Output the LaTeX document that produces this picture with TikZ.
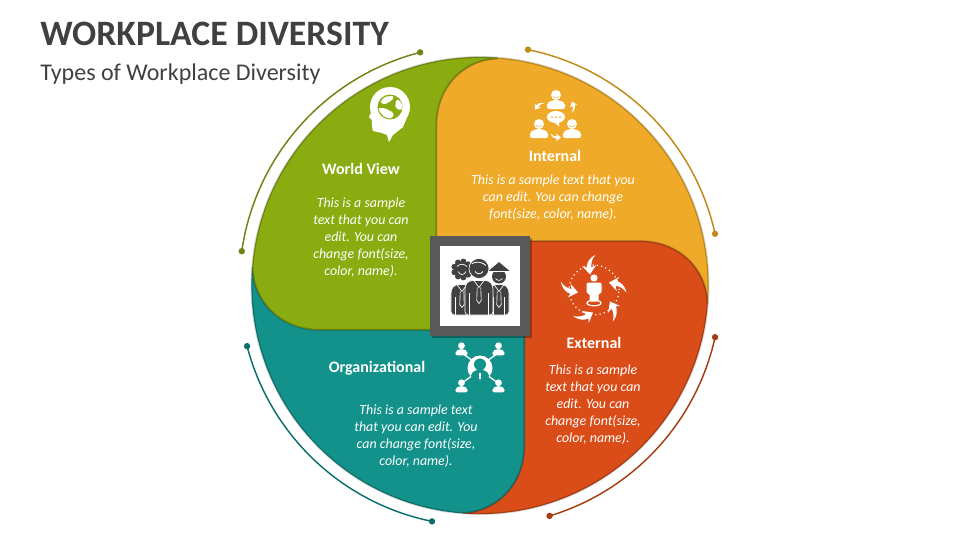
\documentclass[tikz,border=0pt]{standalone}
\usepackage{fontspec}
\setmainfont{Carlito}

\definecolor{leafgreen}{HTML}{8AAC10}
\definecolor{leafedge}{HTML}{6E8410}
\definecolor{amber}{HTML}{EEAA28}
\definecolor{amberedge}{HTML}{BE8A18}
\definecolor{rust}{HTML}{DA4C18}
\definecolor{rustedge}{HTML}{A83C14}
\definecolor{tealfill}{HTML}{12928A}
\definecolor{tealedge}{HTML}{0E6F6A}
\definecolor{frame}{HTML}{595959}
\definecolor{ink}{HTML}{404040}

\begin{document}
\begin{tikzpicture}[x=0.75pt,y=0.75pt,
    headtext/.style={white,font=\fontsize{12pt}{14pt}\selectfont\bfseries,align=center},
    bodytext/.style={white,font=\fontsize{10.45pt}{12.75pt}\selectfont\itshape,align=center}]

    \useasboundingbox (-480,-254.5) rectangle (480,285.5);

    \def\petal#1#2{
      \fill[#1,preaction={draw=black,opacity=.16,line width=2.2pt}] (85:228) arc[start angle=85,end angle=-4.5,radius=228]
        .. controls (227,15) and (200,44) .. (160,44) -- (-44,44) -- (-44,160)
        .. controls (-44,200) and (-15,227) .. cycle;
      \draw[#2,line width=.9pt,line join=round] (85:228) arc[start angle=85,end angle=-4.5,radius=228]
        .. controls (227,15) and (200,44) .. (160,44) -- (-44,44) -- (-44,160)
        .. controls (-44,200) and (-15,227) .. cycle;
    }

    \def\guide#1#2#3{
      \draw[#3,line width=1.1pt] (#1:240.7) arc[start angle=#1,end angle=#2,radius=240.7];
      \fill[#3] (#1:240.7) circle(3.2);
      \fill[#3] (#2:240.7) circle(3.2);
    }

    \def\bust#1{
      \fill[white] (0,7) circle(5);
      \fill[white,rounded corners=1.5pt] (-9,-7) -- (-9,-1) -- (-3,2) -- (3,2) -- (9,-1) -- (9,-7) -- cycle;
      \draw[#1,line width=.3pt] (-3,6) .. controls (-2,3.5) and (2,3.5) .. (3,6);
    }

    \def\swoop{
      \fill[white] (0,0) -- (-9,7) -- (-7,2) .. controls (-11,2) and (-15,3) .. (-19,7)
        .. controls (-16,0) and (-12,-2) .. (-7,-3) -- (-9,-7) -- cycle;
    }

    \def\crew#1#2{
      \filldraw[fill=ink,draw=white,line width=.5pt,rounded corners=2.5pt] (-#1,-#2) -- (-#1,-4) -- (-#1+4,1) -- (#1-4,1) -- (#1,-4) -- (#1,-#2) -- cycle;
      \draw[white,line width=.5pt] (-5,1) -- (0,-6) -- (5,1);
      \draw[white,line width=.5pt] (-1.8,-6) -- (-2.2,-19) -- (0,-22) -- (2.2,-19) -- (1.8,-6);
      \draw[white,line width=.5pt] (-#1+4.5,-#2) -- (-#1+4.5,-11);
      \draw[white,line width=.5pt] (#1-4.5,-#2) -- (#1-4.5,-11);
    }

    % petals and the arcs round them
    \foreach \phi/\col/\edge in {0/amber/amberedge,-90/rust/rustedge,-180/tealfill/tealedge,90/leafgreen/leafedge}
    \begin{scope}[ rotate = \phi ] \petal{\col}{\edge} \end{scope};

    \guide{171.8}{104.4}{leafedge}
    \guide{78.5}{12.4}{amberedge}
    \guide{-12.4}{-73.2}{rustedge}
    \guide{194.6}{258.5}{tealedge}

    % heading
    \node[anchor=west,inner sep=0pt,ink,font=\fontsize{26.8pt}{30pt}\selectfont\bfseries] (title) at (-440,251.5) {WORKPLACE DIVERSITY};
    \node[anchor=west,inner sep=0pt,ink,font=\fontsize{18pt}{20pt}\selectfont] (subtitle) at (-440,211.5) {Types of Workplace Diversity};

    % centre picture
    \fill[black,opacity=.3] (-48,-52) rectangle (52,48);
    \fill[frame] (-50,-50) rectangle (50,50);
    \fill[white] (-40,-40) rectangle (40,40);

    \begin{scope}[ shift = ({ -18 , 0 }) ] \crew{11}{29.5} \end{scope}
    \begin{scope}[ shift = ({  19 , 0 }) ] \crew{10}{29.5} \end{scope}
    \begin{scope}[ shift = ({ -18 , 16 }) ]
      \foreach \a in {0,40,...,320} \fill[ink] (\a:8) circle(3);
      \fill[ink] (0,0) circle(8);
      \draw[white,line width=.5pt] (-4,-2) .. controls (-2,-6) and (2,-6) .. (4,-2);
      \draw[white,line width=.5pt] (-5,3) .. controls (-2,6) and (2,6) .. (5,3);
    \end{scope}
    \begin{scope}[ shift = ({ 19 , 9 }) ]
      \fill[ink] (0,0) circle(7);
      \filldraw[fill=ink,draw=white,line width=.5pt] (-12,5) -- (0,15) -- (12,5) -- cycle;
      \draw[white,line width=.5pt] (-3.5,-2) .. controls (-2,-4.5) and (2,-4.5) .. (3.5,-2);
    \end{scope}
    \begin{scope}[ shift = ({ -1 , 4 }) ] \crew{14}{33.5} \end{scope}
    \begin{scope}[ shift = ({ -1 , 17 }) ]
      \filldraw[fill=ink,draw=white,line width=.5pt] (0,0) circle(10);
      \draw[white,line width=.6pt] (-7,5) .. controls (-3,7) and (3,7) .. (7,3);
      \draw[white,line width=.6pt] (-4,-3) .. controls (-2,-6) and (2,-6) .. (4,-3);
    \end{scope}

    % world view icon
    \begin{scope}[ shift = ({ -90 , 178.5 }) ]
      \fill[white] (0,0) circle(20);
      \fill[white] (-19,-6) -- (-21,-10) -- (-18,-13) -- (-18,-19) -- (-17,-24) -- (-8,-26) -- (-3,-28) -- (-1,-35) -- (3,-28) -- (13,-20) -- (18,-8) -- cycle;
      \fill[leafgreen] (0,0) circle(12.5);
      \fill[white,rounded corners=1.5pt] (-12,-1) -- (-5,-1) -- (0,-4) -- (4,-6) -- (3,-11) -- (-3,-11.5) -- (-9,-7) -- cycle;
      \fill[white,rounded corners=1.5pt] (-10,5) -- (-5,10.5) -- (4,11) -- (2,6) -- (-2,5) -- (-5,2) -- cycle;
      \fill[white,rounded corners=1.5pt] (7,8) -- (12,4) -- (12,-3) -- (6,-2) -- (5,3) -- cycle;
    \end{scope}

    % internal icon
    \begin{scope}[ shift = ({ 76 , 183.5 }) ] \bust{amber}  \end{scope}
    \begin{scope}[ shift = ({ 59 , 154.5 }) ] \bust{amber}  \end{scope}
    \begin{scope}[ shift = ({ 92 , 154.5 }) ] \bust{amber}  \end{scope}
    \fill[white] (76,168.5) ellipse(9 and 6);
    \fill[white] (73,164) -- (79,164) -- (79,159) -- cycle;
    \foreach \x in {72,76,80} \fill[amber] (\x,168.5) circle(1);
    \begin{scope}[ shift = ({ 55 , 176 }) , rotate = -125 , scale = .55 ] \swoop \end{scope}
    \begin{scope}[ shift = ({ 92 , 184 }) , rotate = 110 , scale = .55 ]  \swoop \end{scope}
    \begin{scope}[ shift = ({ 81 , 148 }) , scale = .55 ]                 \swoop \end{scope}

    % external icon
    \draw[white,line width=.9pt,dash pattern=on .9pt off 2.4pt] (114,-4.5) circle(25);
    \fill[white] (114,7.5) circle(3.6);
    \fill[white,rounded corners=1pt] (106.5,-8) -- (106.5,3) -- (121.5,3) -- (121.5,-8) -- (118.5,-8) -- (118.5,-16) -- (109.5,-16) -- (109.5,-8) -- cycle;
    \draw[white,line width=.9pt] (114,-17.5) ellipse(7 and 2.8);
    \begin{scope}[ shift = ({ 110 , 11 }) , rotate = -85 ]  \swoop \end{scope}
    \begin{scope}[ shift = ({ 129 , 3 }) , rotate = 170 ]   \swoop \end{scope}
    \begin{scope}[ shift = ({ 130 , -16 }) , rotate = 118 ] \swoop \end{scope}
    \begin{scope}[ shift = ({ 113 , -27 }) , rotate = 30 ]  \swoop \end{scope}
    \begin{scope}[ shift = ({ 98 , -7 }) , rotate = -12 ]   \swoop \end{scope}

    % organizational icon
    \fill[white] (0,-82.5) circle(12.5);
    \fill[tealfill] (0,-79) circle(6);
    \fill[tealfill,rounded corners=1.5pt] (-9,-95) -- (-9,-88) -- (-3,-84) -- (3,-84) -- (9,-88) -- (9,-95) -- cycle;
    \draw[white,line width=.8pt] (0,-87) -- (0,-93);
    \draw[white,line width=1pt] (-9,-74) -- (-16,-69);
    \draw[white,line width=1pt] (9,-74) -- (16,-69);
    \draw[white,line width=1pt] (-9,-91) -- (-16,-96);
    \draw[white,line width=1pt] (9,-91) -- (16,-96);
    \begin{scope}[ shift = ({ -18.5 , -65 }) , scale = .68 ] \bust{white} \end{scope}
    \begin{scope}[ shift = ({  18.5 , -65 }) , scale = .68 ] \bust{white} \end{scope}
    \begin{scope}[ shift = ({ -18.5 , -102 }) , scale = .68 ] \bust{white} \end{scope}
    \begin{scope}[ shift = ({  18.5 , -102 }) , scale = .68 ] \bust{white} \end{scope}

    % labels
    \node[headtext] (worldhead) at (-119,117) {World View};
    \node[bodytext] (worldtext) at (-119,48) {This is a sample\\text that you can\\edit. You can\\change font(size,\\color, name).};
    \node[headtext] (internalhead) at (75,130) {Internal};
    \node[bodytext] (internaltext) at (73,88) {This is a sample text that you\\can edit. You can change\\font(size, color, name).};
    \node[headtext] (externalhead) at (114,-57) {External};
    \node[bodytext] (externaltext) at (113,-119.5) {This is a sample\\text that you can\\edit. You can\\change font(size,\\color, name).};
    \node[headtext] (orghead) at (-103,-83) {Organizational};
    \node[bodytext] (orgtext) at (-64,-151) {This is a sample text\\that you can edit. You\\can change font(size,\\color, name).};

\end{tikzpicture}
\end{document}
